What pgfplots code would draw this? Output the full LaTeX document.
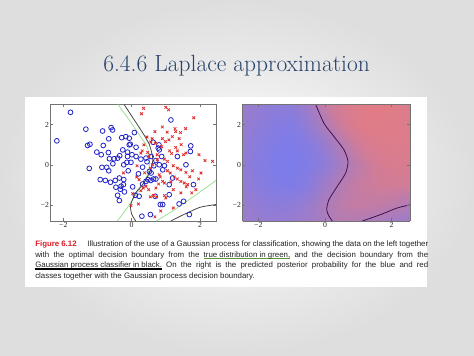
\documentclass[border=0pt]{standalone}
\usepackage{fontspec}
\usepackage{pgfplots}
\pgfplotsset{compat=1.18}
\newfontfamily\capfont{Liberation Sans}
\newfontfamily\tickfont{Liberation Serif}
\definecolor{titlecol}{RGB}{42,68,108}
\definecolor{bluept}{RGB}{35,35,200}
\definecolor{redpt}{RGB}{225,45,45}
\definecolor{truegreen}{RGB}{160,225,150}
\definecolor{gpblack}{RGB}{60,60,60}
\definecolor{figred}{RGB}{215,30,40}
\definecolor{capcol}{RGB}{35,35,35}
\definecolor{ulgreen}{RGB}{90,150,50}
\definecolor{contourcol}{RGB}{60,20,80}
\newcommand\myul[2]{\setbox0\hbox{#2}\rlap{\color{#1}\rule[-1.5pt]{\wd0}{0.8pt}}\box0\relax}
\pgfplotsset{panel/.style={
  scale only axis, height=87.4pt,
  axis line style={black!55, line width=0.4pt},
  tick style={black!55, line width=0.3pt},
  tick align=inside, major tick length=2pt,
  xtick={-2,0,2}, ytick={-2,0,2},
  xticklabels={−2,0,2}, yticklabels={−2,0,2},
  tick label style={font=\tickfont\fontsize{5.8}{6}\selectfont, text=black!85, inner sep=1pt},
  ymin=-2.8, ymax=3.0,
}}
\begin{document}
\begin{tikzpicture}
\useasboundingbox (0,0) rectangle (355.5pt,266.25pt);
\shade[inner color=white, outer color=black!13] (0,0) rectangle (355.5pt,266.25pt);
\begin{scope}[x=0.75pt,y=-0.75pt,shift={(0pt,266.25pt)}]
  \fill[white] (25,97) rectangle (427,287);
  \node[anchor=base west, inner sep=0pt, text=titlecol, font=\fontsize{17.6}{20}\selectfont] at (103,71) {6.4.6 Laplace approximation};
\end{scope}

% left panel
\begin{axis}[panel, at={(38.0pt,100.5pt)}, anchor=south west, width=124.0pt,
  xmin=-2.37, xmax=2.47, clip=true]
\addplot[only marks, mark=o, mark size=1.8pt, mark options={line width=0.6pt, draw=bluept}] table {
x y
-1.79 2.61
-2.19 1.19
-1.34 1.77
-1.29 0.96
-1.22 1.02
-1.24 -0.18
-1.02 0.63
-0.85 1.68
-0.83 0.96
-0.67 1.29
-0.60 1.85
-0.56 1.73
-0.68 0.61
-0.65 0.30
-0.51 0.30
-0.41 0.33
-0.87 -0.13
-0.73 -0.13
-0.67 -0.30
-0.92 -0.74
-0.77 -0.78
-0.62 -0.87
-0.48 -0.78
-0.36 -0.66
-0.23 -0.74
-0.46 -1.12
-0.31 -1.07
-0.24 -0.99
-0.41 -1.52
-0.36 -1.78
-0.29 1.35
-0.17 1.40
-0.07 1.32
-0.26 0.74
-0.12 0.63
-0.12 0.41
0.01 0.50
0.13 0.41
-0.14 0.12
-0.02 0.12
-0.23 0.00
-0.07 0.99
-0.04 1.02
0.08 1.60
0.13 0.87
0.03 -1.10
0.11 -1.52
0.22 -1.57
0.30 -2.56
0.55 -2.48
0.27 0.28
0.42 0.33
0.57 0.41
0.32 -0.12
0.52 -0.33
0.57 -0.41
0.48 -0.74
0.56 -0.78
0.64 -0.71
0.71 -0.71
0.32 -0.96
0.42 -0.83
0.80 0.99
0.78 0.83
0.81 0.74
0.88 0.41
0.81 0.00
0.96 -0.05
0.91 -0.25
0.71 0.21
1.15 2.23
0.63 1.12
1.34 0.41
1.10 -0.99
1.20 -0.66
0.84 -1.98
0.91 -1.98
1.10 -1.49
1.39 -1.95
1.52 -1.82
1.59 0.00
1.73 0.94
1.72 0.66
1.81 -0.99
1.69 -2.48
0.69 -1.57
-0.35 0.45
-0.55 0.05
0.20 -0.45
0.65 -0.05
0.45 0.15
-0.10 -0.30
-0.89 0.50
-0.33 -1.22
-0.21 -1.35
};
\addplot[only marks, mark=x, mark size=1.4pt, mark options={line width=0.6pt, draw=redpt}] table {
x y
0.35 2.81
0.29 2.54
1.00 2.86
1.08 2.74
1.82 2.34
0.90 1.88
0.68 1.65
1.04 1.62
1.27 1.80
1.29 1.65
1.43 1.60
1.58 1.80
0.45 1.38
0.56 1.13
0.60 1.30
0.90 1.30
0.99 1.15
1.19 1.40
1.09 1.24
1.39 1.30
1.45 1.00
0.88 0.90
0.70 1.07
1.29 0.86
1.34 0.69
0.36 0.99
0.31 0.69
1.11 0.69
1.17 0.56
1.97 0.50
0.51 0.41
0.75 0.50
1.52 0.50
0.96 0.28
1.05 0.17
2.37 0.17
2.15 0.21
1.22 -0.05
1.44 -0.25
1.59 -0.38
1.78 -0.30
1.05 -0.30
1.13 -0.41
1.25 -0.61
1.34 -0.71
1.44 -0.83
1.54 -0.91
1.64 -0.99
1.96 -0.71
1.88 -1.24
1.76 -1.40
0.84 -0.61
0.91 -0.83
0.96 -0.91
0.71 -1.16
0.79 -0.96
0.42 -1.07
0.50 -1.24
0.27 -1.29
0.34 -1.16
0.55 -1.60
0.64 -1.53
0.73 -1.60
0.96 -1.53
1.00 -1.65
1.22 -2.15
0.68 -2.59
-0.02 -2.03
-0.24 -0.41
0.15 -0.61
0.22 -0.74
0.61 0.00
0.55 -0.17
0.47 0.61
0.27 0.58
0.81 -0.50
1.34 -0.17
1.59 0.58
1.22 -1.24
1.44 -1.40
2.03 -0.41
0.16 -0.05
1.70 -0.60
1.15 -0.85
0.38 -0.40
0.75 0.25
1.60 -1.10
0.20 -1.95
0.85 -2.30
0.03 -1.44
};
\addplot[truegreen, line width=0.6pt, smooth, tension=0.4] coordinates {
(-0.40,3.0) (-0.10,2.3) (0.20,1.55) (0.45,0.9) (0.52,0.3) (0.50,-0.3) (0.35,-0.9) (0.10,-1.55) (-0.15,-2.2) (-0.42,-2.8)};
\addplot[truegreen, line width=0.6pt, smooth, tension=0.4] coordinates {
(0.72,-2.8) (1.2,-2.3) (1.8,-1.6) (2.47,-0.78)};
\addplot[gpblack, line width=0.55pt, smooth, tension=0.4] coordinates {
(-0.22,3.0) (0.05,2.3) (0.32,1.6) (0.52,1.0) (0.62,0.3) (0.55,-0.3) (0.36,-0.9) (0.12,-1.4) (-0.03,-2.0) (0.0,-2.45) (0.12,-2.8)};
\addplot[gpblack, line width=0.55pt, smooth, tension=0.4] coordinates {
(1.15,-2.8) (1.5,-2.5) (2.0,-2.12) (2.47,-1.98)};
\end{axis}

% right panel
\begin{axis}[panel, at={(182.0pt,100.5pt)}, anchor=south west, width=125.5pt,
  xmin=-2.47, xmax=2.55, view={0}{90}, ztick=\empty, axis on top,
  colormap={br}{rgb255=(120,124,238) rgb255=(232,124,128)},
  point meta min=0, point meta max=1]
\addplot3[surf, shader=interp, mesh/cols=11, point meta=\thisrow{p}] table {
x y z p
-2.47 -2.8 0 0.32
-2.0 -2.8 0 0.27
-1.5 -2.8 0 0.25
-1.0 -2.8 0 0.28
-0.5 -2.8 0 0.36
0.0 -2.8 0 0.45
0.5 -2.8 0 0.56
1.0 -2.8 0 0.53
1.5 -2.8 0 0.45
2.0 -2.8 0 0.38
2.55 -2.8 0 0.32
-2.47 -2.0 0 0.30
-2.0 -2.0 0 0.22
-1.5 -2.0 0 0.18
-1.0 -2.0 0 0.20
-0.5 -2.0 0 0.30
0.0 -2.0 0 0.47
0.5 -2.0 0 0.62
1.0 -2.0 0 0.68
1.5 -2.0 0 0.66
2.0 -2.0 0 0.60
2.55 -2.0 0 0.50
-2.47 -1.0 0 0.25
-2.0 -1.0 0 0.15
-1.5 -1.0 0 0.08
-1.0 -1.0 0 0.06
-0.5 -1.0 0 0.15
0.0 -1.0 0 0.35
0.5 -1.0 0 0.56
1.0 -1.0 0 0.70
1.5 -1.0 0 0.78
2.0 -1.0 0 0.80
2.55 -1.0 0 0.80
-2.47 0.0 0 0.22
-2.0 0.0 0 0.12
-1.5 0.0 0 0.05
-1.0 0.0 0 0.03
-0.5 0.0 0 0.08
0.0 0.0 0 0.20
0.5 0.0 0 0.42
1.0 0.0 0 0.62
1.5 0.0 0 0.80
2.0 0.0 0 0.85
2.55 0.0 0 0.85
-2.47 1.0 0 0.25
-2.0 1.0 0 0.15
-1.5 1.0 0 0.07
-1.0 1.0 0 0.05
-0.5 1.0 0 0.12
0.0 1.0 0 0.28
0.5 1.0 0 0.54
1.0 1.0 0 0.78
1.5 1.0 0 0.88
2.0 1.0 0 0.90
2.55 1.0 0 0.88
-2.47 2.0 0 0.28
-2.0 2.0 0 0.20
-1.5 2.0 0 0.12
-1.0 2.0 0 0.10
-0.5 2.0 0 0.25
0.0 2.0 0 0.50
0.5 2.0 0 0.78
1.0 2.0 0 0.90
1.5 2.0 0 0.93
2.0 2.0 0 0.92
2.55 2.0 0 0.88
-2.47 3.0 0 0.32
-2.0 3.0 0 0.25
-1.5 3.0 0 0.20
-1.0 3.0 0 0.20
-0.5 3.0 0 0.35
0.0 3.0 0 0.70
0.5 3.0 0 0.85
1.0 3.0 0 0.92
1.5 3.0 0 0.95
2.0 3.0 0 0.93
2.55 3.0 0 0.88
};
\addplot3[contourcol, line width=0.6pt, smooth, tension=0.4] coordinates {
(-0.28,3.0,1) (-0.03,2.06,1) (0.27,1.4,1) (0.57,0.74,1) (0.69,0.17,1) (0.62,-0.41,1) (0.37,-1.07,1) (0.12,-1.73,1) (0.05,-2.23,1) (0.12,-2.56,1) (0.22,-2.8,1)};
\addplot3[contourcol, line width=0.6pt, smooth, tension=0.4] coordinates {
(1.12,-2.8,1) (1.67,-2.48,1) (2.17,-2.15,1) (2.55,-2.0,1)};
\end{axis}

\begin{scope}[x=0.75pt,y=-0.75pt,shift={(0pt,266.25pt)}]
  \begin{scope}[every node/.style={anchor=base west, inner sep=0pt, text=capcol, font=\capfont\fontsize{5.9}{7}\selectfont}]
  \node at (35,246.5) {\makebox[294.75pt][s]{\textcolor{figred}{\bfseries Figure 6.12}\hspace{8pt}Illustration of the use of a Gaussian process for classification, showing the data on the left together}};
  \node at (35,257) {\makebox[294.75pt][s]{with the optimal decision boundary from the \myul{ulgreen}{true distribution in green,} and the decision boundary from the}};
  \node at (35,267.5) {\makebox[294.75pt][s]{\myul{black}{Gaussian process classifier in black.} On the right is the predicted posterior probability for the blue and red}};
  \node at (35,278) {classes together with the Gaussian process decision boundary.};
  \end{scope}
\end{scope}
\end{tikzpicture}
\end{document}
